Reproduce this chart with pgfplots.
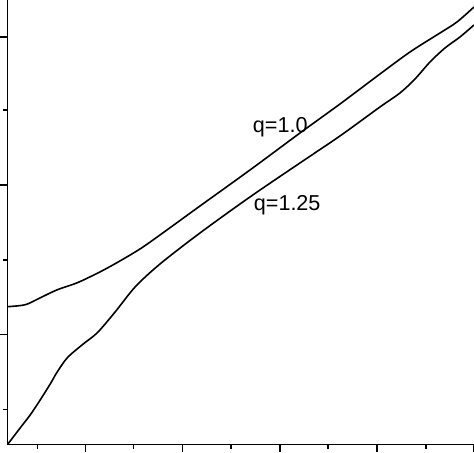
\documentclass[border=0pt]{standalone}
\usepackage{pgfplots}
\pgfplotsset{compat=1.18}
\usepackage{fontspec}
\setmainfont{Liberation Sans}
\begin{document}
\begin{tikzpicture}
\begin{axis}[
  scale only axis,
  width=233.5pt, height=222.5pt,
  xmin=7, xmax=474, ymin=0, ymax=445,
  axis lines=left,
  axis line style={-, line width=0.9pt},
  tick align=outside,
  xtick={85,182,280,377,474},
  minor xtick={37,133,231,328,426},
  ytick={110,260,408},
  minor ytick={35,185,335},
  major tick length=3.75pt,
  minor tick length=2pt,
  tick style={line width=0.8pt, black},
  xticklabels={}, yticklabels={},
  clip=true,
]
\addplot[black, line width=0.8pt, smooth, tension=0.5] coordinates {
(7,138) (25,140) (40,147) (57,155) (77,162) (100,173) (120,184) (140,196) (160,210) (200,239) (250,275) (300,312) (340,341) (380,371) (410,393) (440,412) (457,423) (474,438)
};
\addplot[black, line width=0.8pt, smooth, tension=0.5] coordinates {
(7,0) (20,17) (30,30) (40,45) (50,61) (57,73) (67,87) (82,100) (97,112) (115,133) (135,158) (160,181) (200,212) (250,248) (300,282) (340,309) (380,338) (400,352) (415,366) (430,383) (445,397) (460,408) (474,420)
};
\node[font=\fontsize{10.8}{13}\selectfont, inner sep=0pt] at (axis cs:280,318) {q=1.0};
\node[font=\fontsize{10.8}{13}\selectfont, inner sep=0pt] at (axis cs:287,240) {q=1.25};
\end{axis}
\pgfresetboundingbox
\path (current axis.south west) ++(-3.75pt,-3.75pt) rectangle (current axis.north east);
\end{tikzpicture}
\end{document}
